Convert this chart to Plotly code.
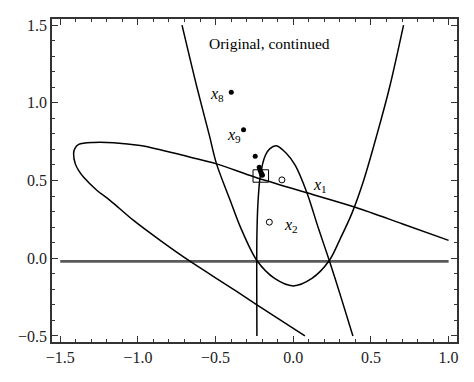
import plotly.graph_objects as go

# ---- data ----
curve_a_x = [-0.716, -0.62, -0.54, -0.495, -0.405, -0.34, -0.234, -0.12, 0.0, 0.12, 0.232, 0.30, 0.378, 0.453, 0.54, 0.62, 0.71]
curve_a_y = [1.50, 1.10, 0.79, 0.61, 0.37, 0.20, -0.015, -0.13, -0.178, -0.13, -0.015, 0.12, 0.29, 0.50, 0.80, 1.10, 1.50]

curve_b_x = [-0.234, -0.235, -0.234, -0.227, -0.212, -0.18, -0.15, -0.11, -0.045, 0.013, 0.088, 0.163, 0.232, 0.31, 0.384]
curve_b_y = [-0.50, -0.20, 0.146, 0.36, 0.532, 0.661, 0.705, 0.723, 0.675, 0.597, 0.421, 0.189, -0.015, -0.26, -0.50]

curve_c_x = [1.0, 0.70, 0.399, 0.088, -0.245, -0.495, -0.663, -0.856, -0.985, -1.156, -1.285, -1.381, -1.407, -1.414, -1.403, -1.381, -1.349,
             -1.263, -1.178, -1.028, -0.85, -0.663, -0.405, -0.234, 0.075]
curve_c_y = [0.115, 0.222, 0.328, 0.421, 0.521, 0.607, 0.65, 0.698, 0.725, 0.743, 0.745, 0.732, 0.704, 0.672, 0.607, 0.564, 0.521,
             0.436, 0.371, 0.243, 0.11, -0.021, -0.187, -0.30, -0.50]

hline_x = [-1.5, 1.0]
hline_y = [-0.02, -0.02]

iter_x = [-0.399, -0.32, -0.245, -0.219, -0.213, -0.208, -0.204, -0.201, -0.199]
iter_y = [1.068, 0.826, 0.656, 0.586, 0.566, 0.552, 0.543, 0.537, 0.533]

open_x = [-0.073, -0.154]
open_y = [0.504, 0.232]

root = [-0.209, 0.529]
box_half = [0.05, 0.04]

x_ticks = [-1.5, -1.0, -0.5, 0.0, 0.5, 1.0]
y_ticks = [-0.5, 0.0, 0.5, 1.0, 1.5]

serif = "Liberation Serif"

fig = go.Figure()
fig.add_trace(go.Scatter(x=hline_x, y=hline_y, mode="lines",
                         line=dict(color="#5a5a5a", width=2.6), hoverinfo="skip"))
for cx, cy in [(curve_a_x, curve_a_y), (curve_b_x, curve_b_y), (curve_c_x, curve_c_y)]:
    fig.add_trace(go.Scatter(x=cx, y=cy, mode="lines",
                             line=dict(color="black", width=1.5, shape="spline", smoothing=0.9)))
fig.add_trace(go.Scatter(x=iter_x, y=iter_y, mode="markers",
                         marker=dict(color="black", size=5)))
fig.add_trace(go.Scatter(x=open_x, y=open_y, mode="markers",
                         marker=dict(color="white", size=6, line=dict(color="black", width=1))))

fig.add_shape(type="rect", xref="x", yref="y",
              x0=root[0] - box_half[0], x1=root[0] + box_half[0],
              y0=root[1] - box_half[1], y1=root[1] + box_half[1],
              line=dict(color="black", width=1))

lab_font = dict(family=serif, size=16, color="black")
fig.add_annotation(x=iter_x[0], y=iter_y[0], text="<i>x</i><sub>8</sub>", showarrow=False,
                   xanchor="right", yanchor="middle", xshift=-5, yshift=-2, font=lab_font)
fig.add_annotation(x=iter_x[1], y=iter_y[1], text="<i>x</i><sub>9</sub>", showarrow=False,
                   xanchor="right", yanchor="middle", xshift=-1, yshift=-6, font=lab_font)
fig.add_annotation(x=open_x[0], y=open_y[0], text="<i>x</i><sub>1</sub>", showarrow=False,
                   xanchor="left", yanchor="middle", xshift=29, yshift=-6, font=lab_font)
fig.add_annotation(x=open_x[1], y=open_y[1], text="<i>x</i><sub>2</sub>", showarrow=False,
                   xanchor="left", yanchor="middle", xshift=13, yshift=-3, font=lab_font)
fig.add_annotation(x=-0.15, y=1.38, text="Original, continued", showarrow=False,
                   xanchor="center", yanchor="middle",
                   font=dict(family=serif, size=15.5, color="black"))

axis_common = dict(showline=True, linecolor="#333333", linewidth=1.5, mirror="ticks",
                   ticks="inside", ticklen=6, tickwidth=1.2, tickcolor="#333333",
                   showgrid=False, zeroline=False, tickformat=".1f", automargin=False,
                   tickfont=dict(family=serif, size=16, color="#222222"),
                   minor=dict(ticks="inside", ticklen=3.5, tickwidth=1, tickcolor="#333333",
                              dtick=0.1, showgrid=False))

fig.update_xaxes(range=[-1.553, 1.054], tickvals=x_ticks, **axis_common)
fig.update_yaxes(range=[-0.539, 1.539], tickvals=y_ticks, **axis_common)

fig.update_layout(width=474, height=382, showlegend=False,
                  margin=dict(l=52, r=17, t=19, b=40),
                  plot_bgcolor="white", paper_bgcolor="white")

fig.write_html("out.html", config={"displayModeBar": False},
               post_script="document.body.style.margin='0';document.body.style.padding='0';")
